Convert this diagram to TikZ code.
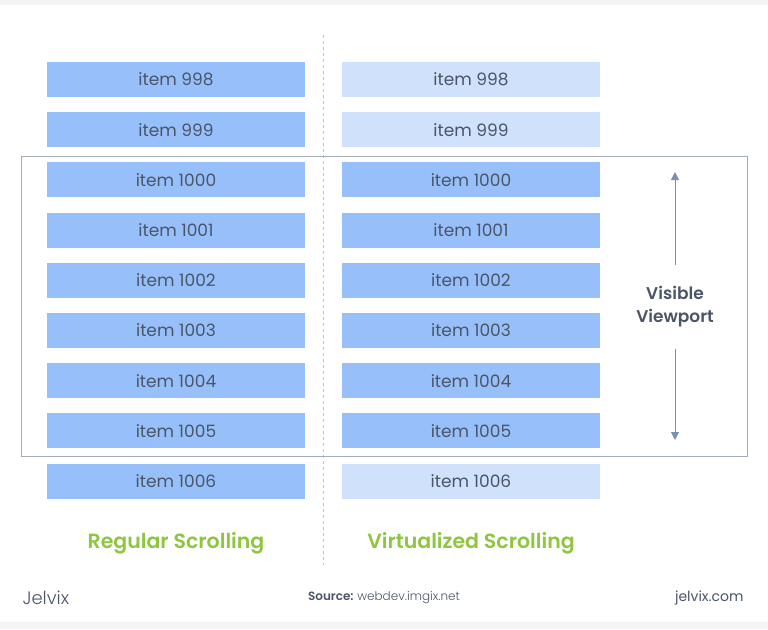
\documentclass[tikz,border=0pt]{standalone}
\usepackage{fontspec}
\setmainfont{Poppins}
\newfontfamily\semibold{Poppins SemiBold}
\newfontfamily\light{Poppins Light}
\usepackage{tikz}
\usetikzlibrary{arrows.meta, positioning}
\usepackage{xcolor}
\definecolor{myblue}{HTML}{97C0FA}
\definecolor{mylightblue}{HTML}{CFE1FB}
\definecolor{mytext}{HTML}{4A5568}
\definecolor{myframe}{HTML}{A3ADB8}
\definecolor{myarrow}{HTML}{7A8FB2}
\definecolor{mygreen}{HTML}{8DC63F}
\definecolor{mystrip}{HTML}{F4F4F4}
\tikzset{
  itembox/.style={fill=myblue, minimum width=258pt, minimum height=35pt, inner sep=0pt,
    text=mytext, font=\fontsize{17}{18}\selectfont},
  lightbox/.style={itembox, fill=mylightblue},
  title/.style={text=mygreen, font=\fontsize{20.5}{22}\selectfont\semibold},
  footer/.style={text=mytext, font=\fontsize{13}{15}\selectfont},
  vparrow/.style={myarrow, line width=0.9pt, -{Triangle[width=8pt,length=8pt]}}
}

\begin{document}
\begin{tikzpicture}[x=1pt, y=-1pt]
			\useasboundingbox (0,0) rectangle (768,629);
			\fill[mystrip] (0,0) rectangle (768,5);
			\fill[mystrip] (0,622) rectangle (768,629);
			% dashed divider
			\draw[myframe!70, dashed, line width=0.6pt] (323,35) -- (323,565);
			% item rows
			\foreach \n [count=\i from 0] in {998,...,1006}{
				\node[itembox] (L\n) at (176,79.5+50.2*\i) {item \n};
				\ifnum\n<1000
					\node[lightbox] (R\n) at (471,79.5+50.2*\i) {item \n};
				\else\ifnum\n>1005
					\node[lightbox] (R\n) at (471,79.5+50.2*\i) {item \n};
				\else
					\node[itembox] (R\n) at (471,79.5+50.2*\i) {item \n};
				\fi\fi
			}
			% viewport
			\draw[myframe, line width=1pt] (21,156) rectangle (747,456);
			\node[text=mytext, font=\fontsize{17}{23}\selectfont\semibold, align=center,
				minimum height=83pt, inner sep=0pt] (vp) at (675,307) {Visible\\Viewport};
			\coordinate (vptop) at (675,172);
			\coordinate (vpbot) at (675,440);
			\draw[vparrow] (vp.north) -- (vptop);
			\draw[vparrow] (vp.south) -- (vpbot);
			% titles
			\node[title] (regular) at (176,543) {Regular Scrolling};
			\node[title] (virtual) at (471,543) {Virtualized Scrolling};
			% footer
			\node[footer, anchor=west, font=\fontsize{18}{20}\selectfont\light] (logo) at (19,598) {Jelvix};
			\node[footer, font=\fontsize{12}{15}\selectfont] (source) at (384,598) {\semibold Source: \light webdev.imgix.net};
			\node[footer, anchor=east, font=\fontsize{14}{16}\selectfont] (site) at (747,598) {jelvix.com};
		\end{tikzpicture}
\end{document}
